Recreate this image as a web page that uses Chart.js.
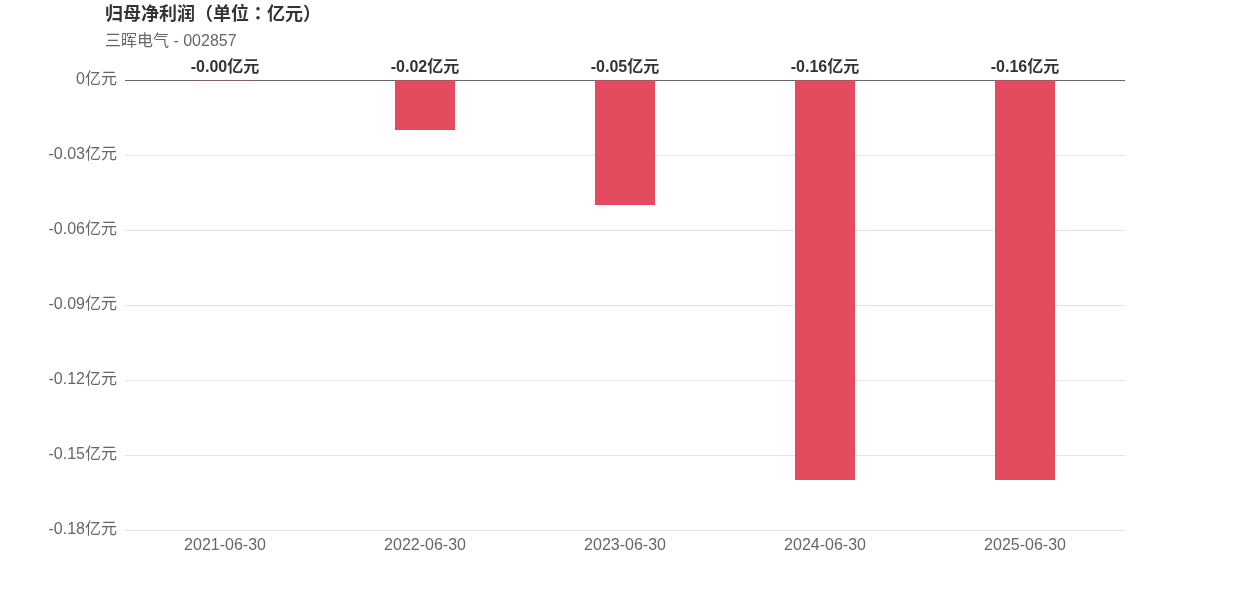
<!DOCTYPE html>
<html>
<head>
<meta charset="utf-8">
<script src="https://cdn.jsdelivr.net/npm/chart.js@4/dist/chart.umd.min.js"></script>
<style>
  body { margin: 0; background: #fff; font-family: "Liberation Sans", "Noto Sans CJK SC", sans-serif; }
  #wrap { position: relative; width: 1250px; height: 600px; }
  #title { position: absolute; left: 105px; top: -1px; font-size: 18px; font-weight: bold; color: #333; }
  #title .colon { font-family: "Noto Sans CJK TC", sans-serif; }
  #sub { position: absolute; left: 105px; top: 27px; font-size: 16px; color: #666; }
</style>
</head>
<body>
<div id="wrap">
  <canvas id="c" width="1250" height="600"></canvas>
  <div id="title">归母净利润（单位<span class="colon">：</span>亿元）</div>
  <div id="sub">三晖电气 - 002857</div>
</div>
<script>
const categories = ["2021-06-30", "2022-06-30", "2023-06-30", "2024-06-30", "2025-06-30"];
const profits = [-0.0001, -0.02, -0.05, -0.16, -0.16];
const unit = "亿元";

const fontFamily = '"Liberation Sans", "Noto Sans CJK SC", sans-serif';

// value labels above the zero line
const topLabels = {
  id: "topLabels",
  afterDatasetsDraw(chart) {
    const { ctx } = chart;
    const meta = chart.getDatasetMeta(0);
    const zeroY = chart.scales.y.getPixelForValue(0);
    ctx.save();
    ctx.font = "bold 16px " + fontFamily;
    ctx.fillStyle = "#333";
    ctx.textAlign = "center";
    ctx.textBaseline = "middle";
    meta.data.forEach((bar, i) => {
      ctx.fillText(profits[i].toFixed(2) + unit, bar.x, zeroY - 12);
    });
    ctx.restore();
  }
};

new Chart(document.getElementById("c").getContext("2d"), {
  type: "bar",
  data: {
    labels: categories,
    datasets: [{
      data: profits,
      backgroundColor: "#e54b5f",
      borderWidth: 0,
      barPercentage: 0.3,
      categoryPercentage: 1
    }]
  },
  options: {
    responsive: false,
    animation: false,
    layout: { padding: { left: 0, right: 125, top: 80, bottom: 0 } },
    plugins: { legend: { display: false }, tooltip: { enabled: false } },
    scales: {
      x: {
        grid: { display: false, drawTicks: false },
        border: { display: false },
        ticks: { color: "#666", font: { size: 16, family: fontFamily }, padding: 6 },
        afterFit(scale) { scale.height = 70; }
      },
      y: {
        min: -0.18,
        max: 0,
        grid: {
          drawTicks: false,
          color: ctx => Math.abs(ctx.tick.value) < 1e-9 ? "#666" : "#e3e3e3"
        },
        border: { display: false },
        ticks: {
          stepSize: 0.03,
          padding: 8,
          color: "#666",
          font: { size: 16, family: fontFamily },
          callback: v => Math.abs(v) < 1e-9 ? "0" + unit : v.toFixed(2) + unit
        },
        afterFit(scale) { scale.width = 125; }
      }
    }
  },
  plugins: [topLabels]
});
</script>
</body>
</html>
